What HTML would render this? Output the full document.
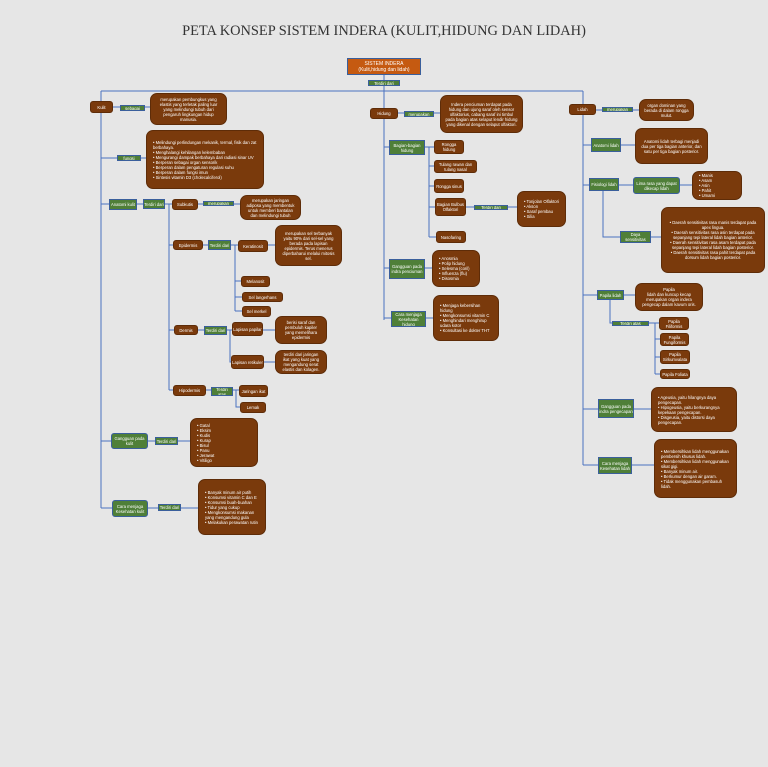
<!DOCTYPE html>
<html><head><meta charset="utf-8"><style>
html,body{margin:0;padding:0;}
body{width:768px;height:767px;background:#e6e6e6;position:relative;overflow:hidden;font-family:"Liberation Sans",sans-serif;}
.t{position:absolute;top:23px;left:0;width:768px;text-align:center;font-family:"Liberation Serif",serif;font-size:14.4px;color:#333;}
.b,.g,.o{position:absolute;box-sizing:border-box;color:#fff;font-size:4.2px;line-height:5px;display:flex;align-items:center;justify-content:center;text-align:center;overflow:hidden;}
.b{background:#7a3a0c;border:1px solid #5e2c08;border-radius:3px;}
.b.r{border-radius:7px;padding:2px 4px;}
.b.l{justify-content:flex-start;text-align:left;padding-left:6px;}
.g{background:#4f7f38;border:1px solid #3a5f9c;}
.o{background:#c55a11;border:1px solid #3a5f9c;font-size:5px;line-height:6px;}
svg{position:absolute;left:0;top:0;}
</style></head><body>
<div class="t">PETA KONSEP SISTEM INDERA (KULIT,HIDUNG DAN LIDAH)</div>
<svg width="768" height="767" stroke="#4a72c0" stroke-width="1" fill="none">
<path d="M384 75V320M101 91H583M101 91V508M583 91V465"/>
<path d="M113 107H150M101 158H146M101 204H172M198 204H240M169 204V390M169 245H238M268 245H275M235 245V311M235 281H241M235 297H242M235 311H242M169 330H232M263 330H275M230 330V362H275M169 390H239M236 390V407H240M101 441H190M101 508H198"/>
<path d="M384 113H440M384 147H434M429 147V237M429 166H434M429 186H434M429 207H517M429 237H436M384 268H432M384 318H433"/>
<path d="M583 110H639M583 145H635M583 185H692M603 190V237H620M651 237H661M583 295H635M610 299V323H659M655 323V374M655 339H660M655 357H660M655 374H660M583 409H651M583 465H654"/>
</svg>
<div class="o" style="left:347px;top:58px;width:74px;height:17px">SISTEM INDERA<br>(Kulit,hidung dan lidah)</div>
<div class="g" style="left:368px;top:80px;width:32px;height:6px">Terdiri dari</div>
<!-- Kulit -->
<div class="b" style="left:90px;top:101px;width:23px;height:12px">Kulit</div>
<div class="g" style="left:120px;top:105px;width:25px;height:6px">sebagai</div>
<div class="b r" style="left:150px;top:93px;width:77px;height:32px">merupakan pembungkus yang elastis yang terletak paling luar yang melindungi tubuh dari pengaruh lingkungan hidup manusia.</div>
<div class="g" style="left:117px;top:155px;width:24px;height:6px">fungsi</div>
<div class="b r l" style="left:146px;top:130px;width:118px;height:59px">• Melindungi perlindungan mekanik, termal, fisik dan zat berbahaya.<br>• Menghalangi kehilangan kelembaban<br>• Mengurangi dampak berbahaya dari radiasi sinar UV<br>• Berperan sebagai organ sensorik<br>• Berperan dalam pengaturan regulasi suhu<br>• Berperan dalam fungsi imun<br>• Sintesis vitamin D3 (cholecalciferol)</div>
<div class="g" style="left:109px;top:199px;width:28px;height:11px">Anatomi kulit</div>
<div class="g" style="left:143px;top:199px;width:22px;height:10px">Terdiri dari</div>
<div class="b" style="left:172px;top:199px;width:26px;height:11px">Subkutis</div>
<div class="g" style="left:203px;top:201px;width:31px;height:5px">merupakan</div>
<div class="b r" style="left:240px;top:195px;width:61px;height:25px">merupakan jaringan adiposa yang membentuk untuk memberi bantalan dan melindungi tubuh</div>
<div class="b" style="left:173px;top:240px;width:30px;height:10px">Epidermis</div>
<div class="g" style="left:208px;top:240px;width:23px;height:10px">Terdiri dari</div>
<div class="b" style="left:238px;top:240px;width:30px;height:12px">Keratinosit</div>
<div class="b r" style="left:275px;top:225px;width:67px;height:41px">merupakan sel terbanyak yaitu 90% dari sel-sel yang berada pada lapisan epidermis. Terus menerus diperbaharui melalui mitosis sel.</div>
<div class="b" style="left:241px;top:276px;width:29px;height:11px">Melanosit</div>
<div class="b" style="left:242px;top:292px;width:41px;height:10px">Sel langerhans</div>
<div class="b" style="left:242px;top:306px;width:29px;height:11px">Sel merkel</div>
<div class="b" style="left:174px;top:325px;width:24px;height:10px">Dermis</div>
<div class="g" style="left:204px;top:326px;width:23px;height:9px">Terdiri dari</div>
<div class="b" style="left:232px;top:322px;width:31px;height:14px">Lapisan papilar</div>
<div class="b r" style="left:275px;top:316px;width:52px;height:28px">berisi saraf dan pembuluh kapiler yang memelihara epidermis</div>
<div class="b" style="left:231px;top:355px;width:33px;height:14px">Lapisan retikuler</div>
<div class="b r" style="left:275px;top:350px;width:52px;height:24px">terdiri dari jaringan ikat yang kuat yang mengandung serat elastis dan kolagen.</div>
<div class="b" style="left:173px;top:385px;width:33px;height:11px">Hipodermis</div>
<div class="g" style="left:211px;top:387px;width:22px;height:9px">Terdiri atas</div>
<div class="b" style="left:239px;top:385px;width:29px;height:12px">Jaringan ikat</div>
<div class="b" style="left:240px;top:402px;width:26px;height:11px">Lemak</div>
<div class="g" style="left:111px;top:433px;width:37px;height:16px;border-radius:3px">Gangguan pada kulit</div>
<div class="g" style="left:155px;top:437px;width:23px;height:8px">Terdiri dari</div>
<div class="b r l" style="left:190px;top:418px;width:68px;height:49px">• Gatal<br>• Eksim<br>• Kudis<br>• Kurap<br>• Bisul<br>• Panu<br>• Jerawat<br>• Vitiligo</div>
<div class="g" style="left:112px;top:500px;width:36px;height:17px;border-radius:3px">Cara menjaga Kesehatan kulit</div>
<div class="g" style="left:158px;top:504px;width:23px;height:7px">Terdiri dari</div>
<div class="b r l" style="left:198px;top:479px;width:68px;height:56px">• Banyak minum air putih<br>• Konsumsi vitamin C dan E<br>• Konsumsi buah-buahan<br>• Tidur yang cukup<br>• Mengkonsumsi makanan yang mengandung gula<br>• Melakukan perawatan rutin</div>
<!-- Hidung -->
<div class="b" style="left:370px;top:108px;width:28px;height:11px">Hidung</div>
<div class="g" style="left:404px;top:111px;width:30px;height:6px">merupakan</div>
<div class="b r" style="left:440px;top:95px;width:83px;height:38px">Indera penciuman terdapat pada hidung dan ujung saraf oleh sensor olfaktorius, cabang saraf ini timbul pada bagian atas selaput lendir hidung yang dikenal dengan selaput olfaktori.</div>
<div class="g" style="left:389px;top:140px;width:36px;height:15px">Bagian-bagian hidung</div>
<div class="b" style="left:434px;top:140px;width:30px;height:14px">Rongga hidung</div>
<div class="b" style="left:434px;top:160px;width:43px;height:13px">Tulang rawan dan tulang nasal</div>
<div class="b" style="left:434px;top:179px;width:30px;height:14px">Rongga sinus</div>
<div class="b" style="left:435px;top:198px;width:31px;height:18px">Bagian Bulbus Olfaktori</div>
<div class="g" style="left:474px;top:205px;width:34px;height:5px">Terdiri dari</div>
<div class="b r l" style="left:517px;top:191px;width:49px;height:36px">• Tonjolan Olfaktori<br>• Akson<br>• Saraf pembau<br>• Silia</div>
<div class="b" style="left:436px;top:231px;width:30px;height:12px">Nasofaring</div>
<div class="g" style="left:389px;top:259px;width:36px;height:20px">Gangguan pada indra penciuman</div>
<div class="b r l" style="left:432px;top:250px;width:48px;height:37px">• Anosmia<br>• Polip hidung<br>• Selesma (coril)<br>• Influenza (flu)<br>• Disosmia</div>
<div class="g" style="left:391px;top:311px;width:35px;height:16px">Cara menjaga Kesehatan hidung</div>
<div class="b r l" style="left:433px;top:295px;width:66px;height:46px">• Menjaga kebersihan hidung<br>• Mengkonsumsi vitamin C<br>• Menghindari menghirup udara kotor<br>• Konsultasi ke dokter THT</div>
<!-- Lidah -->
<div class="b" style="left:569px;top:104px;width:27px;height:11px">Lidah</div>
<div class="g" style="left:602px;top:107px;width:31px;height:5px">merupakan</div>
<div class="b r" style="left:639px;top:99px;width:55px;height:22px">organ dominan yang berada di dalam rongga mulut.</div>
<div class="g" style="left:591px;top:138px;width:30px;height:14px">Anatomi lidah</div>
<div class="b r" style="left:635px;top:128px;width:73px;height:36px">Anatomi lidah terbagi menjadi dua per tiga bagian anterior, dan satu per tiga bagian posterior.</div>
<div class="g" style="left:589px;top:178px;width:30px;height:13px">Fisiologi lidah</div>
<div class="g" style="left:633px;top:177px;width:47px;height:17px;border-radius:3px">Lima rasa yang dapat dikecap lidah</div>
<div class="b r l" style="left:692px;top:171px;width:50px;height:29px">• Manis<br>• Asam<br>• Asin<br>• Pahit<br>• Umami</div>
<div class="g" style="left:620px;top:231px;width:31px;height:12px">Daya sensitivitas</div>
<div class="b r" style="left:661px;top:207px;width:104px;height:66px">• Daerah sensitivitas rasa manis terdapat pada apex lingua.<br>• Daerah sensitivitas rasa asin terdapat pada sepanjang tepi lateral lidah bagian anterior.<br>• Daerah sensitivitas rasa asam terdapat pada sepanjang tepi lateral lidah bagian posterior.<br>• Daerah sensitivitas rasa pahit terdapat pada dorsum lidah bagian posterior.</div>
<div class="g" style="left:597px;top:290px;width:27px;height:10px">Papila lidah</div>
<div class="b r" style="left:635px;top:283px;width:68px;height:28px">Papila<br>lidah dan kuncup kecap merupakan organ indera pengecap dalam kavum oris.</div>
<div class="g" style="left:612px;top:321px;width:37px;height:5px">Terdiri atas</div>
<div class="b" style="left:659px;top:317px;width:30px;height:13px">Papila Filiformis</div>
<div class="b" style="left:660px;top:333px;width:29px;height:13px">Papila Fungiformis</div>
<div class="b" style="left:660px;top:350px;width:30px;height:14px">Papila Sirkumvalata</div>
<div class="b" style="left:660px;top:369px;width:30px;height:10px">Papila Foliata</div>
<div class="g" style="left:598px;top:399px;width:36px;height:19px">Gangguan pada indra pengecapan</div>
<div class="b r l" style="left:651px;top:387px;width:86px;height:45px">• Ageusia, yaitu hilangnya daya pengecapan.<br>• Hipogeusia, yaitu berkurangnya kepekaan pengecapan.<br>• Disgeusia, yaitu distorsi daya pengecapan.</div>
<div class="g" style="left:598px;top:457px;width:34px;height:17px">Cara menjaga Kesehatan lidah</div>
<div class="b r l" style="left:654px;top:439px;width:83px;height:59px">• Membersihkan lidah menggunakan pembersih khusus lidah.<br>• Membersihkan lidah menggunakan sikat gigi.<br>• Banyak minum air.<br>• Berkumur dengan air garam.<br>• Tidak menggunakan pembasuh lidah.</div>
</body></html>
